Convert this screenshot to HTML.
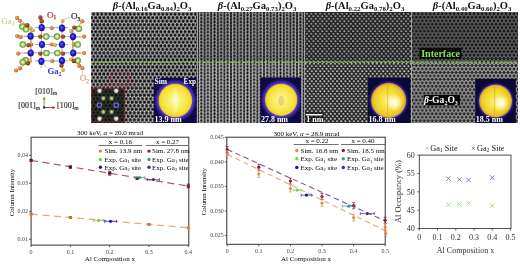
<!DOCTYPE html>
<html><head><meta charset="utf-8"><style>
html,body{margin:0;padding:0;background:#fff;width:520px;height:265px;overflow:hidden}
svg{display:block}
text{font-family:"Liberation Serif",serif}
</style></head><body>
<svg width="520" height="265" viewBox="0 0 520 265">
<defs>
<radialGradient id="gB" cx="0.45" cy="0.42" r="0.6"><stop offset="0" stop-color="#6a6aff"/><stop offset="0.5" stop-color="#1c1cd0"/><stop offset="1" stop-color="#0c0c90"/></radialGradient>
<radialGradient id="gG" cx="0.5" cy="0.5" r="0.5"><stop offset="0" stop-color="#f4fad8"/><stop offset="0.35" stop-color="#d0eaa0"/><stop offset="0.6" stop-color="#98c860"/><stop offset="1" stop-color="#5a8a34"/></radialGradient>
<radialGradient id="gO" cx="0.4" cy="0.4" r="0.6"><stop offset="0" stop-color="#f0b070"/><stop offset="1" stop-color="#b06020"/></radialGradient>
<radialGradient id="gR" cx="0.4" cy="0.4" r="0.6"><stop offset="0" stop-color="#c86040"/><stop offset="1" stop-color="#7a2a10"/></radialGradient>
<radialGradient id="gY" cx="0.4" cy="0.4" r="0.6"><stop offset="0" stop-color="#f4d870"/><stop offset="1" stop-color="#b08820"/></radialGradient>
<radialGradient id="b0" cx="0.5" cy="0.5" r="0.5"><stop offset="0" stop-color="#d8d8d8" stop-opacity="1.0"/><stop offset="0.4" stop-color="#d8d8d8" stop-opacity="0.80"/><stop offset="1" stop-color="#d8d8d8" stop-opacity="0"/></radialGradient><pattern id="p1u" width="4.070" height="7.050" patternUnits="userSpaceOnUse"><rect width="4.070319397786862" height="7.050000000000001" fill="#0e0e0e"/><ellipse cx="0.00" cy="2.35" rx="1.48" ry="1.48" fill="url(#b0)"/><ellipse cx="4.07" cy="2.35" rx="1.48" ry="1.48" fill="url(#b0)"/><ellipse cx="0.00" cy="4.70" rx="1.48" ry="1.48" fill="url(#b0)"/><ellipse cx="4.07" cy="4.70" rx="1.48" ry="1.48" fill="url(#b0)"/><ellipse cx="2.04" cy="1.18" rx="1.48" ry="1.48" fill="url(#b0)"/><ellipse cx="2.04" cy="8.23" rx="1.48" ry="1.48" fill="url(#b0)"/><ellipse cx="2.04" cy="-1.18" rx="1.48" ry="1.48" fill="url(#b0)"/><ellipse cx="2.04" cy="5.88" rx="1.48" ry="1.48" fill="url(#b0)"/></pattern><radialGradient id="b1" cx="0.5" cy="0.5" r="0.5"><stop offset="0" stop-color="#dcdcdc" stop-opacity="1.0"/><stop offset="0.4" stop-color="#dcdcdc" stop-opacity="0.80"/><stop offset="1" stop-color="#dcdcdc" stop-opacity="0"/></radialGradient><pattern id="p1l" width="4.070" height="7.050" patternUnits="userSpaceOnUse"><rect width="4.070319397786862" height="7.050000000000001" fill="#0e0e0e"/><ellipse cx="0.00" cy="2.35" rx="1.48" ry="1.48" fill="url(#b1)"/><ellipse cx="4.07" cy="2.35" rx="1.48" ry="1.48" fill="url(#b1)"/><ellipse cx="0.00" cy="4.70" rx="1.48" ry="1.48" fill="url(#b1)"/><ellipse cx="4.07" cy="4.70" rx="1.48" ry="1.48" fill="url(#b1)"/><ellipse cx="2.04" cy="1.18" rx="1.48" ry="1.48" fill="url(#b1)"/><ellipse cx="2.04" cy="8.23" rx="1.48" ry="1.48" fill="url(#b1)"/><ellipse cx="2.04" cy="-1.18" rx="1.48" ry="1.48" fill="url(#b1)"/><ellipse cx="2.04" cy="5.88" rx="1.48" ry="1.48" fill="url(#b1)"/></pattern><radialGradient id="b2" cx="0.5" cy="0.5" r="0.5"><stop offset="0" stop-color="#0c0c0c" stop-opacity="1.0"/><stop offset="0.4" stop-color="#0c0c0c" stop-opacity="0.80"/><stop offset="1" stop-color="#0c0c0c" stop-opacity="0"/></radialGradient><radialGradient id="b3" cx="0.5" cy="0.5" r="0.5"><stop offset="0" stop-color="#c4c4c4" stop-opacity="1.0"/><stop offset="0.4" stop-color="#c4c4c4" stop-opacity="0.80"/><stop offset="1" stop-color="#c4c4c4" stop-opacity="0"/></radialGradient><radialGradient id="b4" cx="0.5" cy="0.5" r="0.5"><stop offset="0" stop-color="#c4c4c4" stop-opacity="0.7"/><stop offset="0.4" stop-color="#c4c4c4" stop-opacity="0.56"/><stop offset="1" stop-color="#c4c4c4" stop-opacity="0"/></radialGradient><radialGradient id="b5" cx="0.5" cy="0.5" r="0.5"><stop offset="0" stop-color="#000000" stop-opacity="1.0"/><stop offset="0.4" stop-color="#000000" stop-opacity="0.80"/><stop offset="1" stop-color="#000000" stop-opacity="0"/></radialGradient><pattern id="p2u" width="6.600" height="3.400" patternUnits="userSpaceOnUse"><rect width="6.6" height="3.4" fill="#262626"/><ellipse cx="0.00" cy="0.00" rx="0.8" ry="1.2" fill="url(#b2)"/><ellipse cx="0.00" cy="3.40" rx="0.8" ry="1.2" fill="url(#b2)"/><ellipse cx="6.60" cy="0.00" rx="0.8" ry="1.2" fill="url(#b2)"/><ellipse cx="6.60" cy="3.40" rx="0.8" ry="1.2" fill="url(#b2)"/><ellipse cx="0.00" cy="1.70" rx="0.8" ry="1.2" fill="url(#b2)"/><ellipse cx="6.60" cy="1.70" rx="0.8" ry="1.2" fill="url(#b2)"/><ellipse cx="1.50" cy="0.85" rx="1.35" ry="1.35" fill="url(#b3)"/><ellipse cx="1.50" cy="4.25" rx="1.35" ry="1.35" fill="url(#b3)"/><ellipse cx="1.90" cy="-0.85" rx="1.35" ry="1.35" fill="url(#b3)"/><ellipse cx="1.90" cy="2.55" rx="1.35" ry="1.35" fill="url(#b3)"/><ellipse cx="5.10" cy="0.85" rx="1.35" ry="1.35" fill="url(#b3)"/><ellipse cx="5.10" cy="4.25" rx="1.35" ry="1.35" fill="url(#b3)"/><ellipse cx="4.70" cy="-0.85" rx="1.35" ry="1.35" fill="url(#b3)"/><ellipse cx="4.70" cy="2.55" rx="1.35" ry="1.35" fill="url(#b3)"/><ellipse cx="3.30" cy="0.00" rx="1.1" ry="0.7" fill="url(#b4)"/><ellipse cx="3.30" cy="3.40" rx="1.1" ry="0.7" fill="url(#b4)"/><ellipse cx="3.30" cy="1.70" rx="1.5" ry="1.3" fill="url(#b5)"/></pattern><radialGradient id="b6" cx="0.5" cy="0.5" r="0.5"><stop offset="0" stop-color="#dedede" stop-opacity="1.0"/><stop offset="0.4" stop-color="#dedede" stop-opacity="0.80"/><stop offset="1" stop-color="#dedede" stop-opacity="0"/></radialGradient><radialGradient id="b7" cx="0.5" cy="0.5" r="0.5"><stop offset="0" stop-color="#dedede" stop-opacity="0.7"/><stop offset="0.4" stop-color="#dedede" stop-opacity="0.56"/><stop offset="1" stop-color="#dedede" stop-opacity="0"/></radialGradient><pattern id="p2l" width="6.600" height="3.400" patternUnits="userSpaceOnUse"><rect width="6.6" height="3.4" fill="#2e2e2e"/><ellipse cx="0.00" cy="0.00" rx="0.8" ry="1.2" fill="url(#b2)"/><ellipse cx="0.00" cy="3.40" rx="0.8" ry="1.2" fill="url(#b2)"/><ellipse cx="6.60" cy="0.00" rx="0.8" ry="1.2" fill="url(#b2)"/><ellipse cx="6.60" cy="3.40" rx="0.8" ry="1.2" fill="url(#b2)"/><ellipse cx="0.00" cy="1.70" rx="0.8" ry="1.2" fill="url(#b2)"/><ellipse cx="6.60" cy="1.70" rx="0.8" ry="1.2" fill="url(#b2)"/><ellipse cx="1.50" cy="0.85" rx="1.4" ry="1.4" fill="url(#b6)"/><ellipse cx="1.50" cy="4.25" rx="1.4" ry="1.4" fill="url(#b6)"/><ellipse cx="1.90" cy="-0.85" rx="1.4" ry="1.4" fill="url(#b6)"/><ellipse cx="1.90" cy="2.55" rx="1.4" ry="1.4" fill="url(#b6)"/><ellipse cx="5.10" cy="0.85" rx="1.4" ry="1.4" fill="url(#b6)"/><ellipse cx="5.10" cy="4.25" rx="1.4" ry="1.4" fill="url(#b6)"/><ellipse cx="4.70" cy="-0.85" rx="1.4" ry="1.4" fill="url(#b6)"/><ellipse cx="4.70" cy="2.55" rx="1.4" ry="1.4" fill="url(#b6)"/><ellipse cx="3.30" cy="0.00" rx="1.1" ry="0.7" fill="url(#b7)"/><ellipse cx="3.30" cy="3.40" rx="1.1" ry="0.7" fill="url(#b7)"/><ellipse cx="3.30" cy="1.70" rx="1.5" ry="1.3" fill="url(#b5)"/></pattern><radialGradient id="b8" cx="0.5" cy="0.5" r="0.5"><stop offset="0" stop-color="#bcbcbc" stop-opacity="0.9"/><stop offset="0.4" stop-color="#bcbcbc" stop-opacity="0.72"/><stop offset="1" stop-color="#bcbcbc" stop-opacity="0"/></radialGradient><pattern id="p3u" width="4.400" height="5.000" patternUnits="userSpaceOnUse"><rect width="4.4" height="5.0" fill="#222222"/><ellipse cx="1.10" cy="1.25" rx="1.45" ry="1.5" fill="url(#b8)"/><ellipse cx="1.10" cy="6.25" rx="1.45" ry="1.5" fill="url(#b8)"/><ellipse cx="5.50" cy="1.25" rx="1.45" ry="1.5" fill="url(#b8)"/><ellipse cx="5.50" cy="6.25" rx="1.45" ry="1.5" fill="url(#b8)"/><ellipse cx="-1.10" cy="-1.25" rx="1.45" ry="1.5" fill="url(#b8)"/><ellipse cx="-1.10" cy="3.75" rx="1.45" ry="1.5" fill="url(#b8)"/><ellipse cx="3.30" cy="-1.25" rx="1.45" ry="1.5" fill="url(#b8)"/><ellipse cx="3.30" cy="3.75" rx="1.45" ry="1.5" fill="url(#b8)"/></pattern><radialGradient id="b9" cx="0.5" cy="0.5" r="0.5"><stop offset="0" stop-color="#d4d4d4" stop-opacity="1.0"/><stop offset="0.4" stop-color="#d4d4d4" stop-opacity="0.80"/><stop offset="1" stop-color="#d4d4d4" stop-opacity="0"/></radialGradient><pattern id="p3l" width="4.200" height="5.000" patternUnits="userSpaceOnUse"><rect width="4.2" height="5.0" fill="#262626"/><ellipse cx="1.05" cy="1.25" rx="1.4" ry="1.5" fill="url(#b9)"/><ellipse cx="1.05" cy="6.25" rx="1.4" ry="1.5" fill="url(#b9)"/><ellipse cx="5.25" cy="1.25" rx="1.4" ry="1.5" fill="url(#b9)"/><ellipse cx="5.25" cy="6.25" rx="1.4" ry="1.5" fill="url(#b9)"/><ellipse cx="-1.05" cy="-1.25" rx="1.4" ry="1.5" fill="url(#b9)"/><ellipse cx="-1.05" cy="3.75" rx="1.4" ry="1.5" fill="url(#b9)"/><ellipse cx="3.15" cy="-1.25" rx="1.4" ry="1.5" fill="url(#b9)"/><ellipse cx="3.15" cy="3.75" rx="1.4" ry="1.5" fill="url(#b9)"/></pattern><radialGradient id="b10" cx="0.5" cy="0.5" r="0.5"><stop offset="0" stop-color="#787878" stop-opacity="1.0"/><stop offset="0.4" stop-color="#787878" stop-opacity="0.80"/><stop offset="1" stop-color="#787878" stop-opacity="0"/></radialGradient><pattern id="p4u" width="3.984" height="6.900" patternUnits="userSpaceOnUse"><rect width="3.9837168574084174" height="6.8999999999999995" fill="#161616"/><ellipse cx="0.00" cy="2.30" rx="1.5" ry="1.5" fill="url(#b10)"/><ellipse cx="3.98" cy="2.30" rx="1.5" ry="1.5" fill="url(#b10)"/><ellipse cx="0.00" cy="4.60" rx="1.5" ry="1.5" fill="url(#b10)"/><ellipse cx="3.98" cy="4.60" rx="1.5" ry="1.5" fill="url(#b10)"/><ellipse cx="1.99" cy="1.15" rx="1.5" ry="1.5" fill="url(#b10)"/><ellipse cx="1.99" cy="8.05" rx="1.5" ry="1.5" fill="url(#b10)"/><ellipse cx="1.99" cy="-1.15" rx="1.5" ry="1.5" fill="url(#b10)"/><ellipse cx="1.99" cy="5.75" rx="1.5" ry="1.5" fill="url(#b10)"/></pattern><radialGradient id="b11" cx="0.5" cy="0.5" r="0.5"><stop offset="0" stop-color="#bcbcbc" stop-opacity="1.0"/><stop offset="0.4" stop-color="#bcbcbc" stop-opacity="0.80"/><stop offset="1" stop-color="#bcbcbc" stop-opacity="0"/></radialGradient><pattern id="p4l" width="3.984" height="6.900" patternUnits="userSpaceOnUse"><rect width="3.9837168574084174" height="6.8999999999999995" fill="#2a2a2a"/><ellipse cx="0.00" cy="2.30" rx="1.45" ry="1.45" fill="url(#b11)"/><ellipse cx="3.98" cy="2.30" rx="1.45" ry="1.45" fill="url(#b11)"/><ellipse cx="0.00" cy="4.60" rx="1.45" ry="1.45" fill="url(#b11)"/><ellipse cx="3.98" cy="4.60" rx="1.45" ry="1.45" fill="url(#b11)"/><ellipse cx="1.99" cy="1.15" rx="1.45" ry="1.45" fill="url(#b11)"/><ellipse cx="1.99" cy="8.05" rx="1.45" ry="1.45" fill="url(#b11)"/><ellipse cx="1.99" cy="-1.15" rx="1.45" ry="1.45" fill="url(#b11)"/><ellipse cx="1.99" cy="5.75" rx="1.45" ry="1.45" fill="url(#b11)"/></pattern><radialGradient id="cbed" cx="0.5" cy="0.5" r="0.5"><stop offset="0" stop-color="#fff9c0"/><stop offset="0.35" stop-color="#f9f070"/><stop offset="0.7" stop-color="#f6e644"/><stop offset="0.9" stop-color="#f2da30"/><stop offset="0.97" stop-color="#e0b830"/><stop offset="1" stop-color="#a07060"/></radialGradient><radialGradient id="cbed2" cx="0.5" cy="0.5" r="0.5"><stop offset="0" stop-color="#fcf080"/><stop offset="0.5" stop-color="#f4e038"/><stop offset="0.85" stop-color="#ecc828"/><stop offset="0.95" stop-color="#d8a428"/><stop offset="1" stop-color="#906060"/></radialGradient><radialGradient id="hl" cx="0.5" cy="0.5" r="0.5"><stop offset="0" stop-color="#ffffff"/><stop offset="0.5" stop-color="#fffbe0" stop-opacity="0.7"/><stop offset="1" stop-color="#fff8c0" stop-opacity="0"/></radialGradient><radialGradient id="glow" cx="0.5" cy="0.5" r="0.5"><stop offset="0.72" stop-color="#6448d0"/><stop offset="0.86" stop-color="#3424a0" /><stop offset="1" stop-color="#120c50" stop-opacity="0"/></radialGradient><clipPath id="clip139nm"><rect x="154" y="75" width="42.5" height="48"/></clipPath><clipPath id="clip278nm"><rect x="260.4" y="77.5" width="40.60000000000002" height="48.5"/></clipPath><clipPath id="clip168nm"><rect x="368" y="78" width="42.60000000000002" height="48"/></clipPath><clipPath id="clip185nm"><rect x="475.3" y="78.8" width="40.49999999999994" height="47.2"/></clipPath><radialGradient id="wb" cx="0.5" cy="0.5" r="0.5"><stop offset="0" stop-color="#ffffff"/><stop offset="0.5" stop-color="#e0e0e0" stop-opacity="0.9"/><stop offset="1" stop-color="#a0a0a0" stop-opacity="0"/></radialGradient><radialGradient id="bring" cx="0.5" cy="0.5" r="0.5"><stop offset="0" stop-color="#0a0a40"/><stop offset="0.35" stop-color="#202070"/><stop offset="0.65" stop-color="#8080e0"/><stop offset="1" stop-color="#6060c0" stop-opacity="0"/></radialGradient><radialGradient id="gb" cx="0.5" cy="0.5" r="0.5"><stop offset="0" stop-color="#e0e8b0"/><stop offset="0.5" stop-color="#a0b068" stop-opacity="0.9"/><stop offset="1" stop-color="#708040" stop-opacity="0"/></radialGradient></defs>
<rect width="520" height="265" fill="#fff"/>
<g><line x1="35" y1="27.6" x2="68" y2="27.6" stroke="#aab0f0" stroke-width="1.15"/><line x1="35" y1="44.5" x2="68" y2="44.5" stroke="#aab0f0" stroke-width="1.15"/><line x1="35" y1="60.8" x2="68" y2="60.8" stroke="#aab0f0" stroke-width="1.15"/><line x1="24" y1="36.5" x2="80" y2="36.5" stroke="#aab0f0" stroke-width="1.15"/><line x1="24" y1="52.9" x2="80" y2="52.9" stroke="#aab0f0" stroke-width="1.15"/><line x1="30.8" y1="29.5" x2="30.8" y2="60" stroke="#d09040" stroke-width="1.5" stroke-opacity="0.85"/><line x1="72.8" y1="29.5" x2="72.8" y2="60" stroke="#d09040" stroke-width="1.5" stroke-opacity="0.85"/><line x1="41.5" y1="24" x2="41.5" y2="64" stroke="#c89050" stroke-width="1.1" stroke-opacity="0.8"/><line x1="62" y1="24" x2="62" y2="64" stroke="#c89050" stroke-width="1.1" stroke-opacity="0.8"/><line x1="17" y1="18" x2="27" y2="25" stroke="#e0a868" stroke-width="1"/><line x1="17" y1="36" x2="30" y2="36" stroke="#e0a868" stroke-width="1"/><line x1="18" y1="53" x2="30" y2="53" stroke="#e0a868" stroke-width="1"/><line x1="20" y1="68" x2="28" y2="62" stroke="#e0a868" stroke-width="1"/><line x1="84" y1="37" x2="73" y2="37" stroke="#e0a868" stroke-width="1"/><line x1="84" y1="53" x2="73" y2="53" stroke="#e0a868" stroke-width="1"/><line x1="82" y1="21" x2="78" y2="28" stroke="#e0a868" stroke-width="1"/><line x1="82" y1="68" x2="78" y2="61" stroke="#e0a868" stroke-width="1"/><line x1="40" y1="18" x2="41.7" y2="27.6" stroke="#e0a868" stroke-width="1"/><line x1="62.5" y1="21" x2="62" y2="28" stroke="#e0a868" stroke-width="1"/><line x1="62.5" y1="67.7" x2="62" y2="60" stroke="#e0a868" stroke-width="1"/><line x1="41" y1="68" x2="41.4" y2="61.3" stroke="#e0a868" stroke-width="1"/><circle cx="17.1" cy="17.9" r="2.1" fill="url(#gO)"/><circle cx="20" cy="20.8" r="2.1" fill="url(#gO)"/><circle cx="51.7" cy="28.1" r="2.1" fill="url(#gO)"/><circle cx="84" cy="36.6" r="2.1" fill="url(#gO)"/><circle cx="17.1" cy="36" r="2.1" fill="url(#gO)"/><circle cx="20.5" cy="37.2" r="2.1" fill="url(#gO)"/><circle cx="31.3" cy="44.5" r="2.1" fill="url(#gO)"/><circle cx="51.7" cy="44.5" r="2.1" fill="url(#gO)"/><circle cx="73.8" cy="44.5" r="2.1" fill="url(#gO)"/><circle cx="18.2" cy="53.6" r="2.1" fill="url(#gO)"/><circle cx="84" cy="53" r="2.1" fill="url(#gO)"/><circle cx="52.3" cy="61" r="2.1" fill="url(#gO)"/><circle cx="20" cy="68.3" r="2.1" fill="url(#gO)"/><circle cx="82.3" cy="68.2" r="2.1" fill="url(#gO)"/><circle cx="79" cy="65.8" r="2.1" fill="url(#gO)"/><circle cx="82.3" cy="21.3" r="2.1" fill="url(#gO)"/><circle cx="16" cy="70.5" r="2.1" fill="url(#gO)"/><circle cx="30.7" cy="28.1" r="1.9" fill="url(#gY)"/><circle cx="33" cy="30.4" r="1.9" fill="url(#gY)"/><circle cx="62.5" cy="20.8" r="1.9" fill="url(#gY)"/><circle cx="71" cy="31" r="1.9" fill="url(#gY)"/><circle cx="71" cy="59.3" r="1.9" fill="url(#gY)"/><circle cx="30" cy="61" r="1.9" fill="url(#gY)"/><circle cx="63" cy="70" r="1.9" fill="url(#gY)"/><circle cx="55" cy="45" r="1.9" fill="url(#gY)"/><circle cx="22.3" cy="26.6" r="3.3" fill="url(#gG)"/><circle cx="26.1" cy="29.3" r="3.3" fill="url(#gG)"/><circle cx="46.2" cy="36.6" r="3.3" fill="url(#gG)"/><circle cx="57" cy="36.6" r="3.3" fill="url(#gG)"/><circle cx="78.9" cy="28.7" r="3.3" fill="url(#gG)"/><circle cx="22.8" cy="44.5" r="3.3" fill="url(#gG)"/><circle cx="77.7" cy="44.5" r="3.3" fill="url(#gG)"/><circle cx="46.4" cy="53" r="3.3" fill="url(#gG)"/><circle cx="57.3" cy="53" r="3.3" fill="url(#gG)"/><circle cx="25.6" cy="60.4" r="3.3" fill="url(#gG)"/><circle cx="22.8" cy="62.2" r="3.3" fill="url(#gG)"/><circle cx="77.7" cy="60.6" r="3.3" fill="url(#gG)"/><circle cx="40.4" cy="17.5" r="2.2" fill="url(#gR)"/><circle cx="27.3" cy="25.3" r="2.2" fill="url(#gR)"/><circle cx="40.3" cy="36.6" r="2.2" fill="url(#gR)"/><circle cx="63" cy="36.6" r="2.2" fill="url(#gR)"/><circle cx="74.3" cy="27.6" r="2.2" fill="url(#gR)"/><circle cx="28.4" cy="45.1" r="2.2" fill="url(#gR)"/><circle cx="40.3" cy="53.6" r="2.2" fill="url(#gR)"/><circle cx="63" cy="53.6" r="2.2" fill="url(#gR)"/><circle cx="73.8" cy="61" r="2.2" fill="url(#gR)"/><circle cx="27.9" cy="63.2" r="2.2" fill="url(#gR)"/><circle cx="41.7" cy="21.3" r="2.2" fill="url(#gR)"/><circle cx="61.5" cy="65.5" r="2.2" fill="url(#gR)"/><ellipse cx="41.7" cy="27.6" rx="3.1" ry="3.6" fill="url(#gB)"/><ellipse cx="62" cy="28.2" rx="3.1" ry="3.6" fill="url(#gB)"/><ellipse cx="30.6" cy="36.2" rx="3.1" ry="3.6" fill="url(#gB)"/><ellipse cx="73" cy="36.6" rx="3.1" ry="3.6" fill="url(#gB)"/><ellipse cx="42" cy="44.5" rx="3.1" ry="3.6" fill="url(#gB)"/><ellipse cx="62" cy="44.5" rx="3.1" ry="3.6" fill="url(#gB)"/><ellipse cx="30.7" cy="53" rx="3.1" ry="3.6" fill="url(#gB)"/><ellipse cx="73.2" cy="53" rx="3.1" ry="3.6" fill="url(#gB)"/><ellipse cx="41.4" cy="61.3" rx="3.1" ry="3.6" fill="url(#gB)"/><ellipse cx="62" cy="60.6" rx="3.1" ry="3.6" fill="url(#gB)"/></g><g font-family="Liberation Serif, serif"><text x="1.3" y="23.8" font-size="9" text-anchor="start" fill="#b4c870" font-weight="normal" font-style="normal" >Ga<tspan font-size="5.5" dy="1.6">1</tspan></text><text x="47.0" y="17.5" font-size="9" text-anchor="start" fill="#c03040" font-weight="normal" font-style="normal" stroke="#c03040" stroke-width="0.25">O<tspan font-size="5.5" dy="1.7">1</tspan></text><text x="71.0" y="18.8" font-size="9" text-anchor="start" fill="#303030" font-weight="normal" font-style="normal" stroke="#303030" stroke-width="0.25">O<tspan font-size="5.5" dy="1.7">3</tspan></text><text x="47.5" y="74.4" font-size="8.8" text-anchor="start" fill="#3444d4" font-weight="bold" font-style="normal" >Ga<tspan font-size="5.5" dy="1.7">2</tspan></text><text x="79.7" y="81" font-size="9" text-anchor="start" fill="#e0a070" font-weight="normal" font-style="normal" stroke="#e0a070" stroke-width="0.25">O<tspan font-size="5.5" dy="1.7">2</tspan></text><line x1="63.5" y1="19.6" x2="70.5" y2="17.2" stroke="#a0a0a0" stroke-width="0.6"/><line x1="80.5" y1="18.5" x2="82.3" y2="20.5" stroke="#e0a0a0" stroke-width="0.6"/><line x1="42.5" y1="62.8" x2="47.3" y2="67.8" stroke="#90a0c0" stroke-width="0.6"/><line x1="82.3" y1="69.5" x2="82.3" y2="74.5" stroke="#d0b090" stroke-width="0.6"/><text x="35.3" y="93.8" font-size="8" text-anchor="start" fill="#3a3a3a" font-weight="normal" font-style="normal" stroke="#3a3a3a" stroke-width="0.2">[010]<tspan font-size="5.6" dy="1.4">m</tspan></text><text x="18.3" y="108.4" font-size="8" text-anchor="start" fill="#3a3a3a" font-weight="normal" font-style="normal" stroke="#3a3a3a" stroke-width="0.2">[001]<tspan font-size="5.6" dy="1.4">m</tspan></text><text x="57.0" y="108.4" font-size="8" text-anchor="start" fill="#3a3a3a" font-weight="normal" font-style="normal" stroke="#3a3a3a" stroke-width="0.2">[100]<tspan font-size="5.6" dy="1.4">m</tspan></text></g><line x1="44.1" y1="107.5" x2="44.1" y2="99" stroke="#7a8a20" stroke-width="0.9"/><path d="M42.6 99.5 L44.1 96.5 L45.6 99.5Z" fill="#7a8a20"/><line x1="44.1" y1="107.5" x2="53" y2="107.5" stroke="#c02020" stroke-width="0.9"/><path d="M52.5 106 L55.5 107.5 L52.5 109Z" fill="#c02020"/><circle cx="44.1" cy="107.5" r="1.2" fill="#2020a0"/><rect x="91" y="12" width="427" height="111" fill="#a0a0a0"/><rect x="91" y="12" width="106" height="50" fill="url(#p1u)"/><rect x="91" y="62" width="106" height="61" fill="url(#p1l)"/><line x1="91" y1="52.6" x2="197" y2="52.6" stroke="#5a50b0" stroke-width="1.2" stroke-dasharray="2.5 1.5" stroke-opacity="0.35"/><line x1="91" y1="58.2" x2="197" y2="58.2" stroke="#4a3c98" stroke-width="1.2" stroke-dasharray="2.5 1.5" stroke-opacity="0.35"/><line x1="91" y1="62.2" x2="197" y2="62.2" stroke="#8cbc58" stroke-width="1.8" stroke-dasharray="3 1.4" stroke-opacity="0.85"/><rect x="198" y="12" width="106" height="50" fill="url(#p2u)"/><rect x="198" y="62" width="106" height="61" fill="url(#p2l)"/><line x1="198" y1="52.6" x2="304" y2="52.6" stroke="#5a50b0" stroke-width="1.2" stroke-dasharray="2.5 1.5" stroke-opacity="0.35"/><line x1="198" y1="58.2" x2="304" y2="58.2" stroke="#4a3c98" stroke-width="1.2" stroke-dasharray="2.5 1.5" stroke-opacity="0.35"/><line x1="198" y1="62.2" x2="304" y2="62.2" stroke="#8cbc58" stroke-width="1.8" stroke-dasharray="3 1.4" stroke-opacity="0.85"/><rect x="305" y="12" width="106" height="50" fill="url(#p3u)"/><rect x="305" y="62" width="106" height="61" fill="url(#p3l)"/><line x1="305" y1="52.6" x2="411" y2="52.6" stroke="#5a50b0" stroke-width="1.2" stroke-dasharray="2.5 1.5" stroke-opacity="0.35"/><line x1="305" y1="58.2" x2="411" y2="58.2" stroke="#4a3c98" stroke-width="1.2" stroke-dasharray="2.5 1.5" stroke-opacity="0.35"/><line x1="305" y1="62.2" x2="411" y2="62.2" stroke="#8cbc58" stroke-width="1.8" stroke-dasharray="3 1.4" stroke-opacity="0.85"/><rect x="412" y="12" width="106" height="50" fill="url(#p4u)"/><rect x="412" y="62" width="106" height="61" fill="url(#p4l)"/><line x1="412" y1="52.6" x2="518" y2="52.6" stroke="#5a50b0" stroke-width="1.2" stroke-dasharray="2.5 1.5" stroke-opacity="0.35"/><line x1="412" y1="58.2" x2="518" y2="58.2" stroke="#4a3c98" stroke-width="1.2" stroke-dasharray="2.5 1.5" stroke-opacity="0.35"/><line x1="412" y1="62.2" x2="518" y2="62.2" stroke="#8cbc58" stroke-width="1.8" stroke-dasharray="3 1.4" stroke-opacity="0.85"/><g font-family="Liberation Serif, serif" font-weight="bold"><text x="112.8" y="8.9" font-size="10.5" fill="#111"><tspan font-style="italic">β</tspan>-(Al<tspan font-size="6.8" dy="1.6">0.16</tspan><tspan dy="-1.6">Ga</tspan><tspan font-size="6.8" dy="1.6">0.84</tspan><tspan dy="-1.6">)</tspan><tspan font-size="6.8" dy="1.6">2</tspan><tspan dy="-1.6">O</tspan><tspan font-size="6.8" dy="1.6">3</tspan></text><text x="217.8" y="8.9" font-size="10.5" fill="#111"><tspan font-style="italic">β</tspan>-(Al<tspan font-size="6.8" dy="1.6">0.27</tspan><tspan dy="-1.6">Ga</tspan><tspan font-size="6.8" dy="1.6">0.73</tspan><tspan dy="-1.6">)</tspan><tspan font-size="6.8" dy="1.6">2</tspan><tspan dy="-1.6">O</tspan><tspan font-size="6.8" dy="1.6">3</tspan></text><text x="325.7" y="8.9" font-size="10.5" fill="#111"><tspan font-style="italic">β</tspan>-(Al<tspan font-size="6.8" dy="1.6">0.22</tspan><tspan dy="-1.6">Ga</tspan><tspan font-size="6.8" dy="1.6">0.78</tspan><tspan dy="-1.6">)</tspan><tspan font-size="6.8" dy="1.6">2</tspan><tspan dy="-1.6">O</tspan><tspan font-size="6.8" dy="1.6">3</tspan></text><text x="432.8" y="8.9" font-size="10.5" fill="#111"><tspan font-style="italic">β</tspan>-(Al<tspan font-size="6.8" dy="1.6">0.40</tspan><tspan dy="-1.6">Ga</tspan><tspan font-size="6.8" dy="1.6">0.60</tspan><tspan dy="-1.6">)</tspan><tspan font-size="6.8" dy="1.6">2</tspan><tspan dy="-1.6">O</tspan><tspan font-size="6.8" dy="1.6">3</tspan></text></g><g font-family="Liberation Serif, serif" font-weight="bold"><rect x="154" y="78" width="42.5" height="45" fill="#0e0a44"/><circle cx="175.3" cy="100.5" r="22.44" fill="url(#glow)" clip-path="url(#clip139nm)"/><circle cx="175.3" cy="100.5" r="17.0" fill="url(#cbed)"/><ellipse cx="175.3" cy="100.5" rx="3" ry="12.75" fill="#ffffff" fill-opacity="0.25"/><text x="154.5" y="122.2" font-size="8" fill="#fff">13.9 nm</text><rect x="260.4" y="77.5" width="40.60000000000002" height="45.5" fill="#0e0a44"/><circle cx="281.2" cy="99.8" r="21.516000000000002" fill="url(#glow)" clip-path="url(#clip278nm)"/><circle cx="281.2" cy="99.8" r="16.3" fill="url(#cbed)"/><ellipse cx="281.2" cy="100.8" rx="3" ry="5" fill="#d09020" fill-opacity="0.35"/><text x="260.9" y="122.2" font-size="8" fill="#fff">27.8 nm</text><rect x="368" y="78" width="42.60000000000002" height="45" fill="#0a0838"/><circle cx="388.6" cy="100.5" r="20.886" fill="url(#glow)" clip-path="url(#clip168nm)"/><circle cx="388.6" cy="100.5" r="17.7" fill="url(#cbed2)"/><circle cx="394.1" cy="102.5" r="8.85" fill="url(#hl)"/><line x1="387.6" y1="85.455" x2="387.6" y2="115.545" stroke="#c09020" stroke-width="1.2" stroke-opacity="0.35"/><text x="368.5" y="122.2" font-size="8" fill="#fff">16.8 nm</text><rect x="475.3" y="78.8" width="40.49999999999994" height="44.2" fill="#0a0838"/><circle cx="495.6" cy="101" r="19.588" fill="url(#glow)" clip-path="url(#clip185nm)"/><circle cx="495.6" cy="101" r="16.6" fill="url(#cbed2)"/><circle cx="501.1" cy="103" r="8.3" fill="url(#hl)"/><line x1="494.6" y1="86.89" x2="494.6" y2="115.11" stroke="#c09020" stroke-width="1.2" stroke-opacity="0.35"/><text x="475.8" y="122.2" font-size="8" fill="#fff">18.5 nm</text><text x="154.6" y="83.8" font-size="7.5" fill="#fff">Sim</text><text x="183.6" y="83.8" font-size="7.2" fill="#fff">Exp</text></g><rect x="305" y="112.5" width="18.5" height="10.5" fill="#000" fill-opacity="0.55"/><rect x="305.9" y="114" width="16.5" height="1.5" fill="#fff"/><rect x="91.5" y="88.2" width="33" height="34.8" fill="#0c120c"/><rect x="91.5" y="88.2" width="33" height="34.8" fill="url(#p1u)" opacity="0.25"/><circle cx="99.6" cy="90.8" r="3.2" fill="url(#wb)"/><circle cx="116.2" cy="90.8" r="3.2" fill="url(#wb)"/><circle cx="99.6" cy="118.7" r="3.2" fill="url(#wb)"/><circle cx="116.2" cy="118.7" r="3.2" fill="url(#wb)"/><circle cx="99.3" cy="105.1" r="3.4" fill="url(#bring)"/><circle cx="116.2" cy="105.1" r="3.4" fill="url(#bring)"/><circle cx="103.3" cy="98.3" r="3" fill="url(#gb)"/><circle cx="111.6" cy="98.3" r="3" fill="url(#gb)"/><circle cx="103.3" cy="111.9" r="3" fill="url(#gb)"/><circle cx="111.6" cy="111.9" r="3" fill="url(#gb)"/><rect x="91.7" y="88.4" width="32.6" height="33.4" fill="none" stroke="#b02030" stroke-width="1" stroke-dasharray="1.4 1"/><rect x="110.8" y="73" width="18.3" height="11.8" fill="#c02040" fill-opacity="0.05" stroke="#c02040" stroke-width="0.9" stroke-dasharray="1.4 1" stroke-opacity="0.85"/><line x1="110.8" y1="84.8" x2="91.7" y2="88.4" stroke="#c02040" stroke-width="0.7" stroke-dasharray="1.4 1" stroke-opacity="0.75"/><line x1="129.1" y1="84.8" x2="124.3" y2="88.4" stroke="#c02040" stroke-width="0.7" stroke-dasharray="1.4 1" stroke-opacity="0.75"/><g font-family="Liberation Serif, serif" font-weight="bold"><rect x="419.5" y="47.8" width="42" height="10.9" fill="#0a0a0a"/><text x="421.2" y="56.8" font-size="10" fill="#90e050">Interface</text><rect x="423.7" y="94.9" width="36.3" height="10.4" fill="#060606"/><text x="424" y="103" font-size="9.6" fill="#fff"><tspan font-style="italic">β</tspan>-Ga<tspan font-size="6" dy="2">2</tspan><tspan dy="-2">O</tspan><tspan font-size="6" dy="2">3</tspan></text><text x="306.2" y="122.3" font-size="8" fill="#fff">1 nm</text></g><rect x="31.1" y="137.2" width="157.70000000000002" height="107.9" fill="none" stroke="#333" stroke-width="1.0"/><g font-family="Liberation Serif, serif" font-size="6" fill="#444"><line x1="31.1" y1="155.3" x2="29.1" y2="155.3" stroke="#333" stroke-width="0.8"/><text x="28.1" y="157.3" text-anchor="end">0.04</text><line x1="31.1" y1="183.3" x2="29.1" y2="183.3" stroke="#333" stroke-width="0.8"/><text x="28.1" y="185.3" text-anchor="end">0.03</text><line x1="31.1" y1="211.3" x2="29.1" y2="211.3" stroke="#333" stroke-width="0.8"/><text x="28.1" y="213.3" text-anchor="end">0.02</text><line x1="31.1" y1="239.3" x2="29.1" y2="239.3" stroke="#333" stroke-width="0.8"/><text x="28.1" y="241.3" text-anchor="end">0.01</text><line x1="31.1" y1="245.1" x2="31.1" y2="247.1" stroke="#333" stroke-width="0.8"/><text x="31.1" y="254.1" text-anchor="middle">0</text><line x1="70.4" y1="245.1" x2="70.4" y2="247.1" stroke="#333" stroke-width="0.8"/><text x="70.4" y="254.1" text-anchor="middle">0.1</text><line x1="109.70000000000002" y1="245.1" x2="109.70000000000002" y2="247.1" stroke="#333" stroke-width="0.8"/><text x="109.70000000000002" y="254.1" text-anchor="middle">0.2</text><line x1="149.0" y1="245.1" x2="149.0" y2="247.1" stroke="#333" stroke-width="0.8"/><text x="149.0" y="254.1" text-anchor="middle">0.3</text><line x1="188.3" y1="245.1" x2="188.3" y2="247.1" stroke="#333" stroke-width="0.8"/><text x="188.3" y="254.1" text-anchor="middle">0.4</text></g><g font-family="Liberation Serif, serif" font-size="7" fill="#0a0a0a"><text x="109.95" y="261" text-anchor="middle">Al  Composition x</text><text transform="translate(14.2,192.5) rotate(-90)" text-anchor="middle" font-size="6.8">Column Intensity</text><text x="110" y="135.3" text-anchor="middle">300 keV,  <tspan font-style="italic">α</tspan> = 20.0 mrad</text></g><line x1="31.1" y1="160.34000000000003" x2="188.3" y2="186.10000000000002" stroke="#b05868" stroke-width="1.2" stroke-dasharray="7 4.5"/><line x1="31.1" y1="214.10000000000002" x2="188.3" y2="227.82" stroke="#eaa878" stroke-width="1.25" stroke-dasharray="7 4.5"/><rect x="29.5" y="158.84000000000003" width="3.2" height="3" fill="#6a1028"/><line x1="70.4" y1="165.86000000000004" x2="70.4" y2="168.26000000000002" stroke="#6a1028" stroke-width="0.7"/><line x1="68.9" y1="165.86000000000004" x2="71.9" y2="165.86000000000004" stroke="#6a1028" stroke-width="0.7"/><line x1="68.9" y1="168.26000000000002" x2="71.9" y2="168.26000000000002" stroke="#6a1028" stroke-width="0.7"/><rect x="68.80000000000001" y="165.56000000000003" width="3.2" height="3" fill="#6a1028"/><line x1="109.70000000000002" y1="171.22000000000003" x2="109.70000000000002" y2="175.22000000000003" stroke="#6a1028" stroke-width="0.7"/><line x1="108.20000000000002" y1="171.22000000000003" x2="111.20000000000002" y2="171.22000000000003" stroke="#6a1028" stroke-width="0.7"/><line x1="108.20000000000002" y1="175.22000000000003" x2="111.20000000000002" y2="175.22000000000003" stroke="#6a1028" stroke-width="0.7"/><rect x="108.10000000000002" y="171.72000000000003" width="3.2" height="3" fill="#6a1028"/><line x1="137.21" y1="177.26000000000002" x2="137.21" y2="179.26000000000002" stroke="#6a1028" stroke-width="0.7"/><line x1="135.71" y1="177.26000000000002" x2="138.71" y2="177.26000000000002" stroke="#6a1028" stroke-width="0.7"/><line x1="135.71" y1="179.26000000000002" x2="138.71" y2="179.26000000000002" stroke="#6a1028" stroke-width="0.7"/><rect x="135.61" y="176.76000000000002" width="3.2" height="3" fill="#6a1028"/><line x1="188.3" y1="184.10000000000002" x2="188.3" y2="188.10000000000002" stroke="#7a1830" stroke-width="0.7"/><line x1="186.8" y1="184.10000000000002" x2="189.8" y2="184.10000000000002" stroke="#7a1830" stroke-width="0.7"/><line x1="186.8" y1="188.10000000000002" x2="189.8" y2="188.10000000000002" stroke="#7a1830" stroke-width="0.7"/><rect x="186.70000000000002" y="184.60000000000002" width="3.2" height="3" fill="#7a1830"/><line x1="134.8" y1="177.5" x2="144.8" y2="177.5" stroke="#3a9a98" stroke-width="0.7"/><line x1="134.8" y1="176.0" x2="134.8" y2="179.0" stroke="#3a9a98" stroke-width="0.7"/><line x1="144.8" y1="176.0" x2="144.8" y2="179.0" stroke="#3a9a98" stroke-width="0.7"/><circle cx="139.8" cy="177.5" r="1.6" fill="#3a9a98"/><line x1="147.4" y1="179.6" x2="159.4" y2="179.6" stroke="#4a2a80" stroke-width="0.7"/><line x1="147.4" y1="178.1" x2="147.4" y2="181.1" stroke="#4a2a80" stroke-width="0.7"/><line x1="159.4" y1="178.1" x2="159.4" y2="181.1" stroke="#4a2a80" stroke-width="0.7"/><circle cx="153.4" cy="179.6" r="1.6" fill="#4a2a80"/><rect x="29.5" y="212.60000000000002" width="3.2" height="3" fill="#d07830"/><rect x="68.80000000000001" y="215.96" width="3.2" height="3" fill="#c87028"/><rect x="147.4" y="222.96" width="3.2" height="3" fill="#d07830"/><rect x="186.70000000000002" y="226.32" width="3.2" height="3" fill="#e08838"/><line x1="93.5" y1="220.4" x2="103.5" y2="220.4" stroke="#7ccf4a" stroke-width="0.7"/><line x1="93.5" y1="218.9" x2="93.5" y2="221.9" stroke="#7ccf4a" stroke-width="0.7"/><line x1="103.5" y1="218.9" x2="103.5" y2="221.9" stroke="#7ccf4a" stroke-width="0.7"/><circle cx="98.5" cy="220.4" r="1.6" fill="#7ccf4a"/><line x1="104.5" y1="221.3" x2="116.5" y2="221.3" stroke="#1818c0" stroke-width="0.7"/><line x1="104.5" y1="219.8" x2="104.5" y2="222.8" stroke="#1818c0" stroke-width="0.7"/><line x1="116.5" y1="219.8" x2="116.5" y2="222.8" stroke="#1818c0" stroke-width="0.7"/><circle cx="110.5" cy="221.3" r="1.6" fill="#1818c0"/><g font-family="Liberation Serif, serif" font-size="7" fill="#0a0a0a"><text x="120.3" y="144" text-anchor="middle">x = 0.16</text><text x="167.5" y="144" text-anchor="middle">x = 0.27</text><line x1="98.5" y1="145.5" x2="142.2" y2="145.5" stroke="#333" stroke-width="0.7"/><line x1="145.7" y1="145.5" x2="188" y2="145.5" stroke="#333" stroke-width="0.7"/><circle cx="100.4" cy="151.1" r="1.7" fill="#e08a48"/><text x="104.5" y="153.4">Sim. 13.9 nm</text><circle cx="149" cy="151.1" r="1.7" fill="#8a2035"/><text x="152" y="153.4">Sim. 27.8 nm</text><circle cx="100.4" cy="159.5" r="1.7" fill="#7ccf4a"/><text x="104.5" y="161.8">Exp. Ga<tspan font-size="4.5" dy="1.5">1</tspan><tspan dy="-1.5"> site</tspan></text><circle cx="149" cy="159.5" r="1.7" fill="#3a9a98"/><text x="152" y="161.8">Exp. Ga<tspan font-size="4.5" dy="1.5">1</tspan><tspan dy="-1.5"> site</tspan></text><circle cx="100.4" cy="167.3" r="1.7" fill="#1818c0"/><text x="104.5" y="169.60000000000002">Exp. Ga<tspan font-size="4.5" dy="1.5">2</tspan><tspan dy="-1.5"> site</tspan></text><circle cx="149" cy="167.3" r="1.7" fill="#4a2a80"/><text x="152" y="169.60000000000002">Exp. Ga<tspan font-size="4.5" dy="1.5">2</tspan><tspan dy="-1.5"> site</tspan></text></g><rect x="226.8" y="137.2" width="158.39999999999998" height="107.10000000000002" fill="none" stroke="#333" stroke-width="1.0"/><g font-family="Liberation Serif, serif" font-size="6" fill="#444"><line x1="226.8" y1="137.4" x2="224.8" y2="137.4" stroke="#333" stroke-width="0.8"/><text x="223.8" y="139.4" text-anchor="end">0.045</text><line x1="226.8" y1="161.9" x2="224.8" y2="161.9" stroke="#333" stroke-width="0.8"/><text x="223.8" y="163.9" text-anchor="end">0.040</text><line x1="226.8" y1="186.39999999999998" x2="224.8" y2="186.39999999999998" stroke="#333" stroke-width="0.8"/><text x="223.8" y="188.39999999999998" text-anchor="end">0.035</text><line x1="226.8" y1="210.9" x2="224.8" y2="210.9" stroke="#333" stroke-width="0.8"/><text x="223.8" y="212.9" text-anchor="end">0.030</text><line x1="226.8" y1="235.39999999999998" x2="224.8" y2="235.39999999999998" stroke="#333" stroke-width="0.8"/><text x="223.8" y="237.39999999999998" text-anchor="end">0.025</text><line x1="227.2" y1="244.3" x2="227.2" y2="246.3" stroke="#333" stroke-width="0.8"/><text x="227.2" y="253.3" text-anchor="middle">0</text><line x1="258.8" y1="244.3" x2="258.8" y2="246.3" stroke="#333" stroke-width="0.8"/><text x="258.8" y="253.3" text-anchor="middle">0.1</text><line x1="290.4" y1="244.3" x2="290.4" y2="246.3" stroke="#333" stroke-width="0.8"/><text x="290.4" y="253.3" text-anchor="middle">0.2</text><line x1="322.0" y1="244.3" x2="322.0" y2="246.3" stroke="#333" stroke-width="0.8"/><text x="322.0" y="253.3" text-anchor="middle">0.3</text><line x1="353.6" y1="244.3" x2="353.6" y2="246.3" stroke="#333" stroke-width="0.8"/><text x="353.6" y="253.3" text-anchor="middle">0.4</text><line x1="385.2" y1="244.3" x2="385.2" y2="246.3" stroke="#333" stroke-width="0.8"/><text x="385.2" y="253.3" text-anchor="middle">0.5</text></g><g font-family="Liberation Serif, serif" font-size="7" fill="#0a0a0a"><text x="306.0" y="261" text-anchor="middle">Al  Composition x</text><text transform="translate(206,191.5) rotate(-90)" text-anchor="middle" font-size="6.8">Column Intensity</text><text x="306.5" y="135.5" text-anchor="middle">300 keV,  <tspan font-style="italic">α</tspan> = 28.9 mrad</text></g><line x1="227.2" y1="149.4" x2="385.2" y2="221" stroke="#84507a" stroke-width="1.05" stroke-dasharray="5.5 3.5"/><line x1="227.2" y1="154.3" x2="385.2" y2="230.5" stroke="#dca676" stroke-width="1.05" stroke-dasharray="5.5 3.5"/><line x1="227.2" y1="146.5" x2="227.2" y2="152.5" stroke="#8a2035" stroke-width="0.7"/><line x1="225.7" y1="146.5" x2="228.7" y2="146.5" stroke="#8a2035" stroke-width="0.7"/><line x1="225.7" y1="152.5" x2="228.7" y2="152.5" stroke="#8a2035" stroke-width="0.7"/><circle cx="227.2" cy="149.5" r="1.6" fill="#8a2035"/><line x1="227.2" y1="150.6" x2="227.2" y2="157.4" stroke="#e08a48" stroke-width="0.7"/><line x1="225.7" y1="150.6" x2="228.7" y2="150.6" stroke="#e08a48" stroke-width="0.7"/><line x1="225.7" y1="157.4" x2="228.7" y2="157.4" stroke="#e08a48" stroke-width="0.7"/><circle cx="227.2" cy="154" r="1.6" fill="#e08a48"/><line x1="258.8" y1="164.2" x2="258.8" y2="170.2" stroke="#8a2035" stroke-width="0.7"/><line x1="257.3" y1="164.2" x2="260.3" y2="164.2" stroke="#8a2035" stroke-width="0.7"/><line x1="257.3" y1="170.2" x2="260.3" y2="170.2" stroke="#8a2035" stroke-width="0.7"/><circle cx="258.8" cy="167.2" r="1.6" fill="#8a2035"/><line x1="258.8" y1="170.6" x2="258.8" y2="177.4" stroke="#e08a48" stroke-width="0.7"/><line x1="257.3" y1="170.6" x2="260.3" y2="170.6" stroke="#e08a48" stroke-width="0.7"/><line x1="257.3" y1="177.4" x2="260.3" y2="177.4" stroke="#e08a48" stroke-width="0.7"/><circle cx="258.8" cy="174" r="1.6" fill="#e08a48"/><line x1="290.4" y1="178.1" x2="290.4" y2="184.1" stroke="#8a2035" stroke-width="0.7"/><line x1="288.9" y1="178.1" x2="291.9" y2="178.1" stroke="#8a2035" stroke-width="0.7"/><line x1="288.9" y1="184.1" x2="291.9" y2="184.1" stroke="#8a2035" stroke-width="0.7"/><circle cx="290.4" cy="181.1" r="1.6" fill="#8a2035"/><line x1="290.4" y1="185.1" x2="290.4" y2="191.9" stroke="#e08a48" stroke-width="0.7"/><line x1="288.9" y1="185.1" x2="291.9" y2="185.1" stroke="#e08a48" stroke-width="0.7"/><line x1="288.9" y1="191.9" x2="291.9" y2="191.9" stroke="#e08a48" stroke-width="0.7"/><circle cx="290.4" cy="188.5" r="1.6" fill="#e08a48"/><line x1="322.0" y1="193.5" x2="322.0" y2="199.5" stroke="#8a2035" stroke-width="0.7"/><line x1="320.5" y1="193.5" x2="323.5" y2="193.5" stroke="#8a2035" stroke-width="0.7"/><line x1="320.5" y1="199.5" x2="323.5" y2="199.5" stroke="#8a2035" stroke-width="0.7"/><circle cx="322.0" cy="196.5" r="1.6" fill="#8a2035"/><line x1="322.0" y1="199.6" x2="322.0" y2="206.4" stroke="#e08a48" stroke-width="0.7"/><line x1="320.5" y1="199.6" x2="323.5" y2="199.6" stroke="#e08a48" stroke-width="0.7"/><line x1="320.5" y1="206.4" x2="323.5" y2="206.4" stroke="#e08a48" stroke-width="0.7"/><circle cx="322.0" cy="203" r="1.6" fill="#e08a48"/><line x1="353.6" y1="202.7" x2="353.6" y2="208.7" stroke="#8a2035" stroke-width="0.7"/><line x1="352.1" y1="202.7" x2="355.1" y2="202.7" stroke="#8a2035" stroke-width="0.7"/><line x1="352.1" y1="208.7" x2="355.1" y2="208.7" stroke="#8a2035" stroke-width="0.7"/><circle cx="353.6" cy="205.7" r="1.6" fill="#8a2035"/><line x1="353.6" y1="214.2" x2="353.6" y2="221.0" stroke="#e08a48" stroke-width="0.7"/><line x1="352.1" y1="214.2" x2="355.1" y2="214.2" stroke="#e08a48" stroke-width="0.7"/><line x1="352.1" y1="221.0" x2="355.1" y2="221.0" stroke="#e08a48" stroke-width="0.7"/><circle cx="353.6" cy="217.6" r="1.6" fill="#e08a48"/><line x1="385.2" y1="217.3" x2="385.2" y2="223.3" stroke="#8a2035" stroke-width="0.7"/><line x1="383.7" y1="217.3" x2="386.7" y2="217.3" stroke="#8a2035" stroke-width="0.7"/><line x1="383.7" y1="223.3" x2="386.7" y2="223.3" stroke="#8a2035" stroke-width="0.7"/><circle cx="385.2" cy="220.3" r="1.6" fill="#8a2035"/><line x1="385.2" y1="223.6" x2="385.2" y2="230.4" stroke="#e08a48" stroke-width="0.7"/><line x1="383.7" y1="223.6" x2="386.7" y2="223.6" stroke="#e08a48" stroke-width="0.7"/><line x1="383.7" y1="230.4" x2="386.7" y2="230.4" stroke="#e08a48" stroke-width="0.7"/><circle cx="385.2" cy="227" r="1.6" fill="#e08a48"/><line x1="385.8" y1="230.5" x2="385.8" y2="236.5" stroke="#e08a48" stroke-width="0.7"/><line x1="384.3" y1="230.5" x2="387.3" y2="230.5" stroke="#e08a48" stroke-width="0.7"/><line x1="384.3" y1="236.5" x2="387.3" y2="236.5" stroke="#e08a48" stroke-width="0.7"/><circle cx="385.8" cy="233.5" r="1.6" fill="#e08a48"/><line x1="293.2" y1="190.1" x2="301.2" y2="190.1" stroke="#7ccf4a" stroke-width="0.7"/><line x1="293.2" y1="188.6" x2="293.2" y2="191.6" stroke="#7ccf4a" stroke-width="0.7"/><line x1="301.2" y1="188.6" x2="301.2" y2="191.6" stroke="#7ccf4a" stroke-width="0.7"/><circle cx="297.2" cy="190.1" r="1.6" fill="#7ccf4a"/><line x1="301.2" y1="195.1" x2="311.8" y2="195.1" stroke="#1818c0" stroke-width="0.7"/><line x1="301.2" y1="193.6" x2="301.2" y2="196.6" stroke="#1818c0" stroke-width="0.7"/><line x1="311.8" y1="193.6" x2="311.8" y2="196.6" stroke="#1818c0" stroke-width="0.7"/><circle cx="306.5" cy="195.1" r="1.6" fill="#1818c0"/><line x1="342.3" y1="206.2" x2="355.3" y2="206.2" stroke="#3a9a98" stroke-width="0.7"/><line x1="342.3" y1="204.7" x2="342.3" y2="207.7" stroke="#3a9a98" stroke-width="0.7"/><line x1="355.3" y1="204.7" x2="355.3" y2="207.7" stroke="#3a9a98" stroke-width="0.7"/><circle cx="348.8" cy="206.2" r="1.6" fill="#3a9a98"/><line x1="360.3" y1="213.6" x2="374.3" y2="213.6" stroke="#4a2a80" stroke-width="0.7"/><line x1="360.3" y1="212.1" x2="360.3" y2="215.1" stroke="#4a2a80" stroke-width="0.7"/><line x1="374.3" y1="212.1" x2="374.3" y2="215.1" stroke="#4a2a80" stroke-width="0.7"/><circle cx="367.3" cy="213.6" r="1.6" fill="#4a2a80"/><g font-family="Liberation Serif, serif" font-size="7" fill="#0a0a0a"><text x="317" y="143" text-anchor="middle">x = 0.22</text><text x="363" y="143" text-anchor="middle">x = 0.40</text><line x1="293.7" y1="144.5" x2="338.7" y2="144.5" stroke="#333" stroke-width="0.7"/><line x1="341" y1="144.5" x2="385" y2="144.5" stroke="#333" stroke-width="0.7"/><circle cx="296.8" cy="150.5" r="1.7" fill="#e08a48"/><text x="300.5" y="152.8">Sim. 16.8 nm</text><circle cx="343.3" cy="150.5" r="1.7" fill="#8a2035"/><text x="347" y="152.8">Sim. 18.5 nm</text><circle cx="296.8" cy="158.8" r="1.7" fill="#7ccf4a"/><text x="300.5" y="161.10000000000002">Exp. Ga<tspan font-size="4.5" dy="1.5">1</tspan><tspan dy="-1.5"> site</tspan></text><circle cx="343.3" cy="158.8" r="1.7" fill="#3a9a98"/><text x="347" y="161.10000000000002">Exp. Ga<tspan font-size="4.5" dy="1.5">1</tspan><tspan dy="-1.5"> site</tspan></text><circle cx="296.8" cy="167.5" r="1.7" fill="#1818c0"/><text x="300.5" y="169.8">Exp. Ga<tspan font-size="4.5" dy="1.5">2</tspan><tspan dy="-1.5"> site</tspan></text><circle cx="343.3" cy="167.5" r="1.7" fill="#4a2a80"/><text x="347" y="169.8">Exp. Ga<tspan font-size="4.5" dy="1.5">2</tspan><tspan dy="-1.5"> site</tspan></text></g><rect x="419.3" y="155.1" width="91.69999999999999" height="73.5" fill="none" stroke="#3a3a3a" stroke-width="0.9"/><g font-family="Liberation Serif, serif" font-size="8" fill="#333"><line x1="419.3" y1="155.1" x2="417.3" y2="155.1" stroke="#444" stroke-width="0.8"/><text x="414.8" y="157.79999999999998" text-anchor="end">60</text><line x1="419.3" y1="173.475" x2="417.3" y2="173.475" stroke="#444" stroke-width="0.8"/><text x="414.8" y="176.17499999999998" text-anchor="end">55</text><line x1="419.3" y1="191.85" x2="417.3" y2="191.85" stroke="#444" stroke-width="0.8"/><text x="414.8" y="194.54999999999998" text-anchor="end">50</text><line x1="419.3" y1="210.225" x2="417.3" y2="210.225" stroke="#444" stroke-width="0.8"/><text x="414.8" y="212.92499999999998" text-anchor="end">45</text><line x1="419.3" y1="228.6" x2="417.3" y2="228.6" stroke="#444" stroke-width="0.8"/><text x="414.8" y="231.29999999999998" text-anchor="end">40</text><line x1="419.3" y1="228.6" x2="419.3" y2="230.6" stroke="#444" stroke-width="0.8"/><text x="419.3" y="239.9" text-anchor="middle">0</text><line x1="437.54" y1="228.6" x2="437.54" y2="230.6" stroke="#444" stroke-width="0.8"/><text x="437.54" y="239.9" text-anchor="middle">0.1</text><line x1="455.78000000000003" y1="228.6" x2="455.78000000000003" y2="230.6" stroke="#444" stroke-width="0.8"/><text x="455.78000000000003" y="239.9" text-anchor="middle">0.2</text><line x1="474.02" y1="228.6" x2="474.02" y2="230.6" stroke="#444" stroke-width="0.8"/><text x="474.02" y="239.9" text-anchor="middle">0.3</text><line x1="492.26" y1="228.6" x2="492.26" y2="230.6" stroke="#444" stroke-width="0.8"/><text x="492.26" y="239.9" text-anchor="middle">0.4</text><line x1="510.5" y1="228.6" x2="510.5" y2="230.6" stroke="#444" stroke-width="0.8"/><text x="510.5" y="239.9" text-anchor="middle">0.5</text><text x="465.5" y="253" text-anchor="middle">Al Composition x</text><text transform="translate(401.3,191.7) rotate(-90)" text-anchor="middle" font-size="8.4">Al Occupancy (%)</text></g><path d="M446.28400000000005 202.5125L450.684 206.91249999999997M446.28400000000005 206.91249999999997L450.684 202.5125" stroke="#98d878" stroke-width="0.9"/><path d="M457.228 202.14499999999998L461.628 206.54499999999996M457.228 206.54499999999996L461.628 202.14499999999998" stroke="#98d878" stroke-width="0.9"/><path d="M466.348 201.04250000000002L470.748 205.4425M466.348 205.4425L470.748 201.04250000000002" stroke="#98d878" stroke-width="0.9"/><path d="M490.06 203.615L494.46 208.015M490.06 208.015L494.46 203.615" stroke="#98d878" stroke-width="0.9"/><path d="M446.28400000000005 176.42L450.684 180.81999999999996M446.28400000000005 180.81999999999996L450.684 176.42" stroke="#6470c8" stroke-width="0.9"/><path d="M457.228 177.155L461.628 181.55499999999998M457.228 181.55499999999998L461.628 177.155" stroke="#6470c8" stroke-width="0.9"/><path d="M466.348 177.89L470.748 182.28999999999996M466.348 182.28999999999996L470.748 177.89" stroke="#6470c8" stroke-width="0.9"/><path d="M490.06 175.3175L494.46 179.71749999999997M490.06 179.71749999999997L494.46 175.3175" stroke="#6470c8" stroke-width="0.9"/><path d="M425.4 146.8L428.4 149.8M425.4 149.8L428.4 146.8" stroke="#98d878" stroke-width="0.9"/><path d="M471.8 146.8L474.8 149.8M471.8 149.8L474.8 146.8" stroke="#6470c8" stroke-width="0.9"/><g font-family="Liberation Serif, serif" font-size="8.4" fill="#222"><text x="430.2" y="150.6">Ga<tspan font-size="5.3" dy="1.8">1</tspan><tspan dy="-1.8"> Site</tspan></text><text x="477" y="150.6">Ga<tspan font-size="5.3" dy="1.8">2</tspan><tspan dy="-1.8"> Site</tspan></text></g>
</svg>
</body></html>
